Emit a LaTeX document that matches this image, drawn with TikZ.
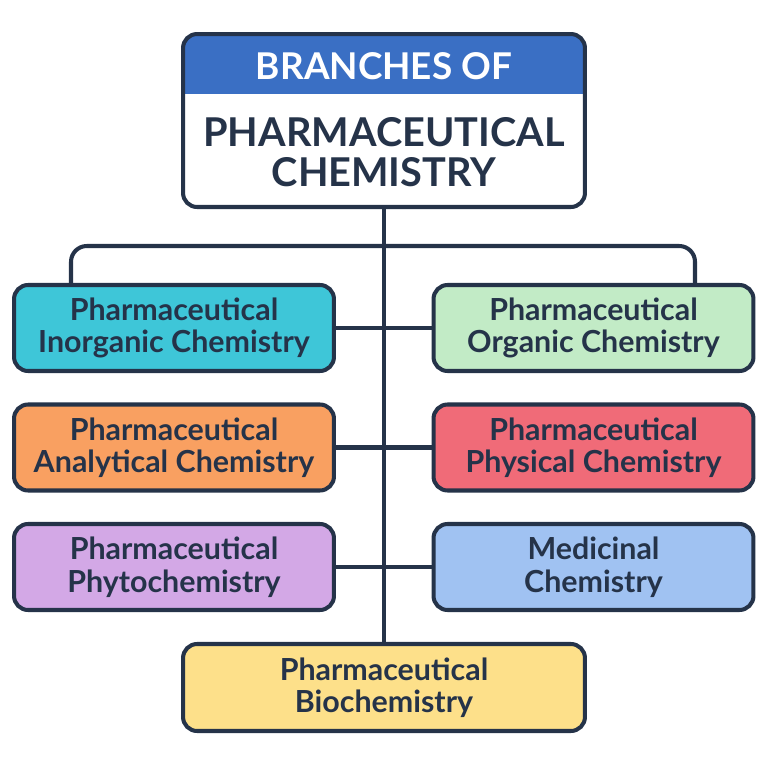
\documentclass[tikz,border=0pt]{standalone}
\usepackage{fontspec}
\setmainfont{Lato}
\usepackage{tikz}
\usetikzlibrary{calc,positioning}
\definecolor{ink}{HTML}{253349}
\definecolor{hdrblue}{HTML}{3A6FC4}
\definecolor{cteal}{HTML}{3EC6D8}
\definecolor{cgreen}{HTML}{C2EBC6}
\definecolor{corange}{HTML}{F9A061}
\definecolor{cred}{HTML}{F06B78}
\definecolor{cviolet}{HTML}{D3A8E6}
\definecolor{cblue}{HTML}{A0C2F2}
\definecolor{cyellow}{HTML}{FDE08A}
\tikzset{
  brbox/.style={draw=ink,line width=2.3pt,rounded corners=8pt,minimum width=6.4cm,
    minimum height=1.72cm,align=center,text=ink,font=\fontsize{17.3}{18.5}\selectfont\bfseries},
  link/.style={draw=ink,line width=2.3pt},
  ttlbox/.style={draw=ink,line width=2.3pt,rounded corners=8pt,fill=white,
    minimum width=8.04cm,minimum height=3.46cm},
}

\begin{document}
\begin{tikzpicture}[x=0.02cm,y=-0.02cm]
  \useasboundingbox[fill=white] (0,0) rectangle (768,768);
  % title with blue header band
  \node[ttlbox,path picture={\fill[hdrblue,sharp corners] (path picture bounding box.north west) rectangle
      ($(path picture bounding box.north east)!0.345!(path picture bounding box.south east)$);}]
    (title) at (384,120.5) {};
  \node[text=white,font=\fontsize{21}{22}\selectfont\bfseries] (hdr) at (384,66) {BRANCHES OF};
  \node[text=ink,align=center,font=\fontsize{22.6}{23}\selectfont\bfseries] (ttl) at (384,152)
    {PHARMACEUTICAL\\CHEMISTRY};
  % branches
  \node[brbox,fill=cteal] (inorg) at (174,328) {Pharmaceutical\\Inorganic Chemistry};
  \node[brbox,fill=cgreen] (org) at (593.5,328) {Pharmaceutical\\Organic Chemistry};
  \node[brbox,fill=corange] (anal) at (174,447.5) {Pharmaceutical\\Analytical Chemistry};
  \node[brbox,fill=cred] (phys) at (593.5,447.5) {Pharmaceutical\\Physical Chemistry};
  \node[brbox,fill=cviolet] (phyto) at (174,567) {Pharmaceutical\\Phytochemistry};
  \node[brbox,fill=cblue] (med) at (593.5,567) {Medicinal\\Chemistry};
  \node[brbox,fill=cyellow,minimum width=8.04cm,minimum height=1.74cm] (bio) at (384,687.5)
    {Pharmaceutical\\Biochemistry};
  % connectors
  \coordinate (lft) at (71,283); \coordinate (rgt) at (695,283); \coordinate (bar) at (384,246);
  \draw[link] (title.south) -- (bio.north);
  \draw[link,rounded corners=9pt] (lft) |- (bar) -| (rgt);
  \foreach \b in {inorg,anal,phyto} \draw[link] (\b.east) -- (\b.east -| title.south);
  \foreach \b in {org,phys,med} \draw[link] (\b.west) -- (\b.west -| title.south);
\end{tikzpicture}
\end{document}
